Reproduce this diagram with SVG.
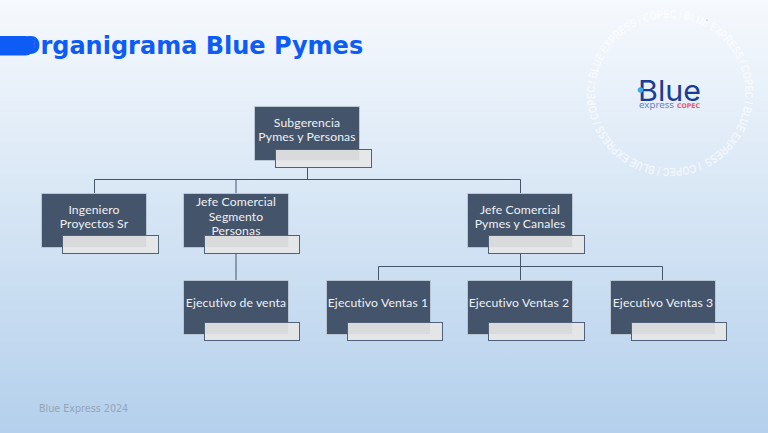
<svg xmlns="http://www.w3.org/2000/svg" width="768" height="433" viewBox="0 0 768 433">
<defs>
<linearGradient id="bg" x1="0" y1="0" x2="0" y2="1"><stop offset="0" stop-color="#f6f9fd"/><stop offset="1" stop-color="#b4d0ec"/></linearGradient>
<path id="ring" d="M670 168a75 75 0 1 1 0.01 0"/>
</defs>
<style>
.n{fill:#44546a;stroke:#c4d0de;stroke-width:.8}
.s{fill:#e6e6e6;fill-opacity:.92;stroke:#50627a;stroke-width:1}
.t{font-family:Lato,"Noto Sans",sans-serif;font-size:12.2px;letter-spacing:.12px;fill:#eef1f5;text-anchor:middle}
.c{fill:none;stroke:#44546a;stroke-width:1}
</style>
<rect width="768" height="433" fill="url(#bg)"/>
<g id="ring-text" transform="rotate(-23 670 93)"><text font-family="'Liberation Sans',sans-serif" font-size="12" font-weight="bold" fill="#fff" fill-opacity=".62"><textPath href="#ring" textLength="466" lengthAdjust="spacingAndGlyphs">/ COPEC / BLUE EXPRESS / COPEC / BLUE EXPRESS / COPEC / BLUE EXPRESS / COPEC / BLUE EXPRESS</textPath></text></g>
<circle cx="707" cy="20" r=".7" fill="#a8b0bc"/>
<g id="logo">
<text x="638" y="101" font-family="Inter,'Noto Sans',sans-serif" font-size="29" fill="#1a3c94" textLength="63" lengthAdjust="spacingAndGlyphs">Blue</text>
<circle cx="640.500" cy="90" r="2.800" fill="#3fa9e8"/>
<text x="639" y="108" font-family="'Noto Sans',sans-serif" font-size="9.500" fill="#6a80c0" textLength="35" lengthAdjust="spacingAndGlyphs">express</text>
<text x="677" y="108" font-family="'DejaVu Sans',sans-serif" font-size="6.500" font-weight="bold" fill="#e85a6a" textLength="23" lengthAdjust="spacingAndGlyphs">COPEC</text>
</g>
<g id="title">
<text x="20" y="54" font-family="'DejaVu Sans',sans-serif" font-size="24" font-weight="bold" fill="#0d5cf5">Organigrama Blue Pymes</text>
<rect x="-12" y="36" width="47" height="19.500" rx="9.700" fill="#0d5cf5"/>
</g>
<g id="connectors">
<path class="c" d="M307.500 167V179.500M94.500 193V179.500H520.500V193M236 179.500V193M236 253V280M520.500 253V266.500M378.500 280V266.500H662.500V280M520.500 266.500V280"/>
</g>
<g id="n1"><rect class="n" x="254.500" y="106.500" width="105" height="54"/><text class="t" x="307" y="126.500">Subgerencia</text><text class="t" x="307" y="140.500">Pymes y Personas</text><rect class="s" x="275.500" y="149.500" width="96" height="18"/></g>
<g id="n2"><rect class="n" x="41.500" y="193.500" width="105" height="54"/><text class="t" x="94" y="213.500">Ingeniero</text><text class="t" x="94" y="227.500">Proyectos Sr</text><rect class="s" x="62.500" y="235.500" width="96" height="18"/></g>
<g id="n3"><rect class="n" x="183.500" y="193.500" width="105" height="54"/><text class="t" x="236" y="205.500">Jefe Comercial</text><text class="t" x="236" y="220.500">Segmento</text><text class="t" x="236" y="235">Personas</text><rect class="s" x="204.500" y="235.500" width="95" height="18"/></g>
<g id="n4"><rect class="n" x="467.500" y="193.500" width="105" height="54"/><text class="t" x="520" y="213.500">Jefe Comercial</text><text class="t" x="520" y="227.500">Pymes y Canales</text><rect class="s" x="488.500" y="235.500" width="96" height="18"/></g>
<g id="n5"><rect class="n" x="183.500" y="280.500" width="105" height="54"/><text class="t" x="236" y="306.500">Ejecutivo de venta</text><rect class="s" x="204.500" y="322.500" width="95" height="18"/></g>
<g id="n6"><rect class="n" x="326.500" y="280.500" width="104" height="54"/><text class="t" x="378" y="306.500">Ejecutivo Ventas 1</text><rect class="s" x="347.500" y="322.500" width="95" height="18"/></g>
<g id="n7"><rect class="n" x="467.500" y="280.500" width="105" height="54"/><text class="t" x="519" y="306.500">Ejecutivo Ventas 2</text><rect class="s" x="488.500" y="322.500" width="96" height="18"/></g>
<g id="n8"><rect class="n" x="610.500" y="280.500" width="105" height="54"/><text class="t" x="663" y="306.500">Ejecutivo Ventas 3</text><rect class="s" x="631.500" y="322.500" width="95" height="18"/></g>
<text id="footer" x="39" y="412" font-family="'DejaVu Sans',sans-serif" font-size="9.600" fill="#94a4b8">Blue Express 2024</text>
</svg>
